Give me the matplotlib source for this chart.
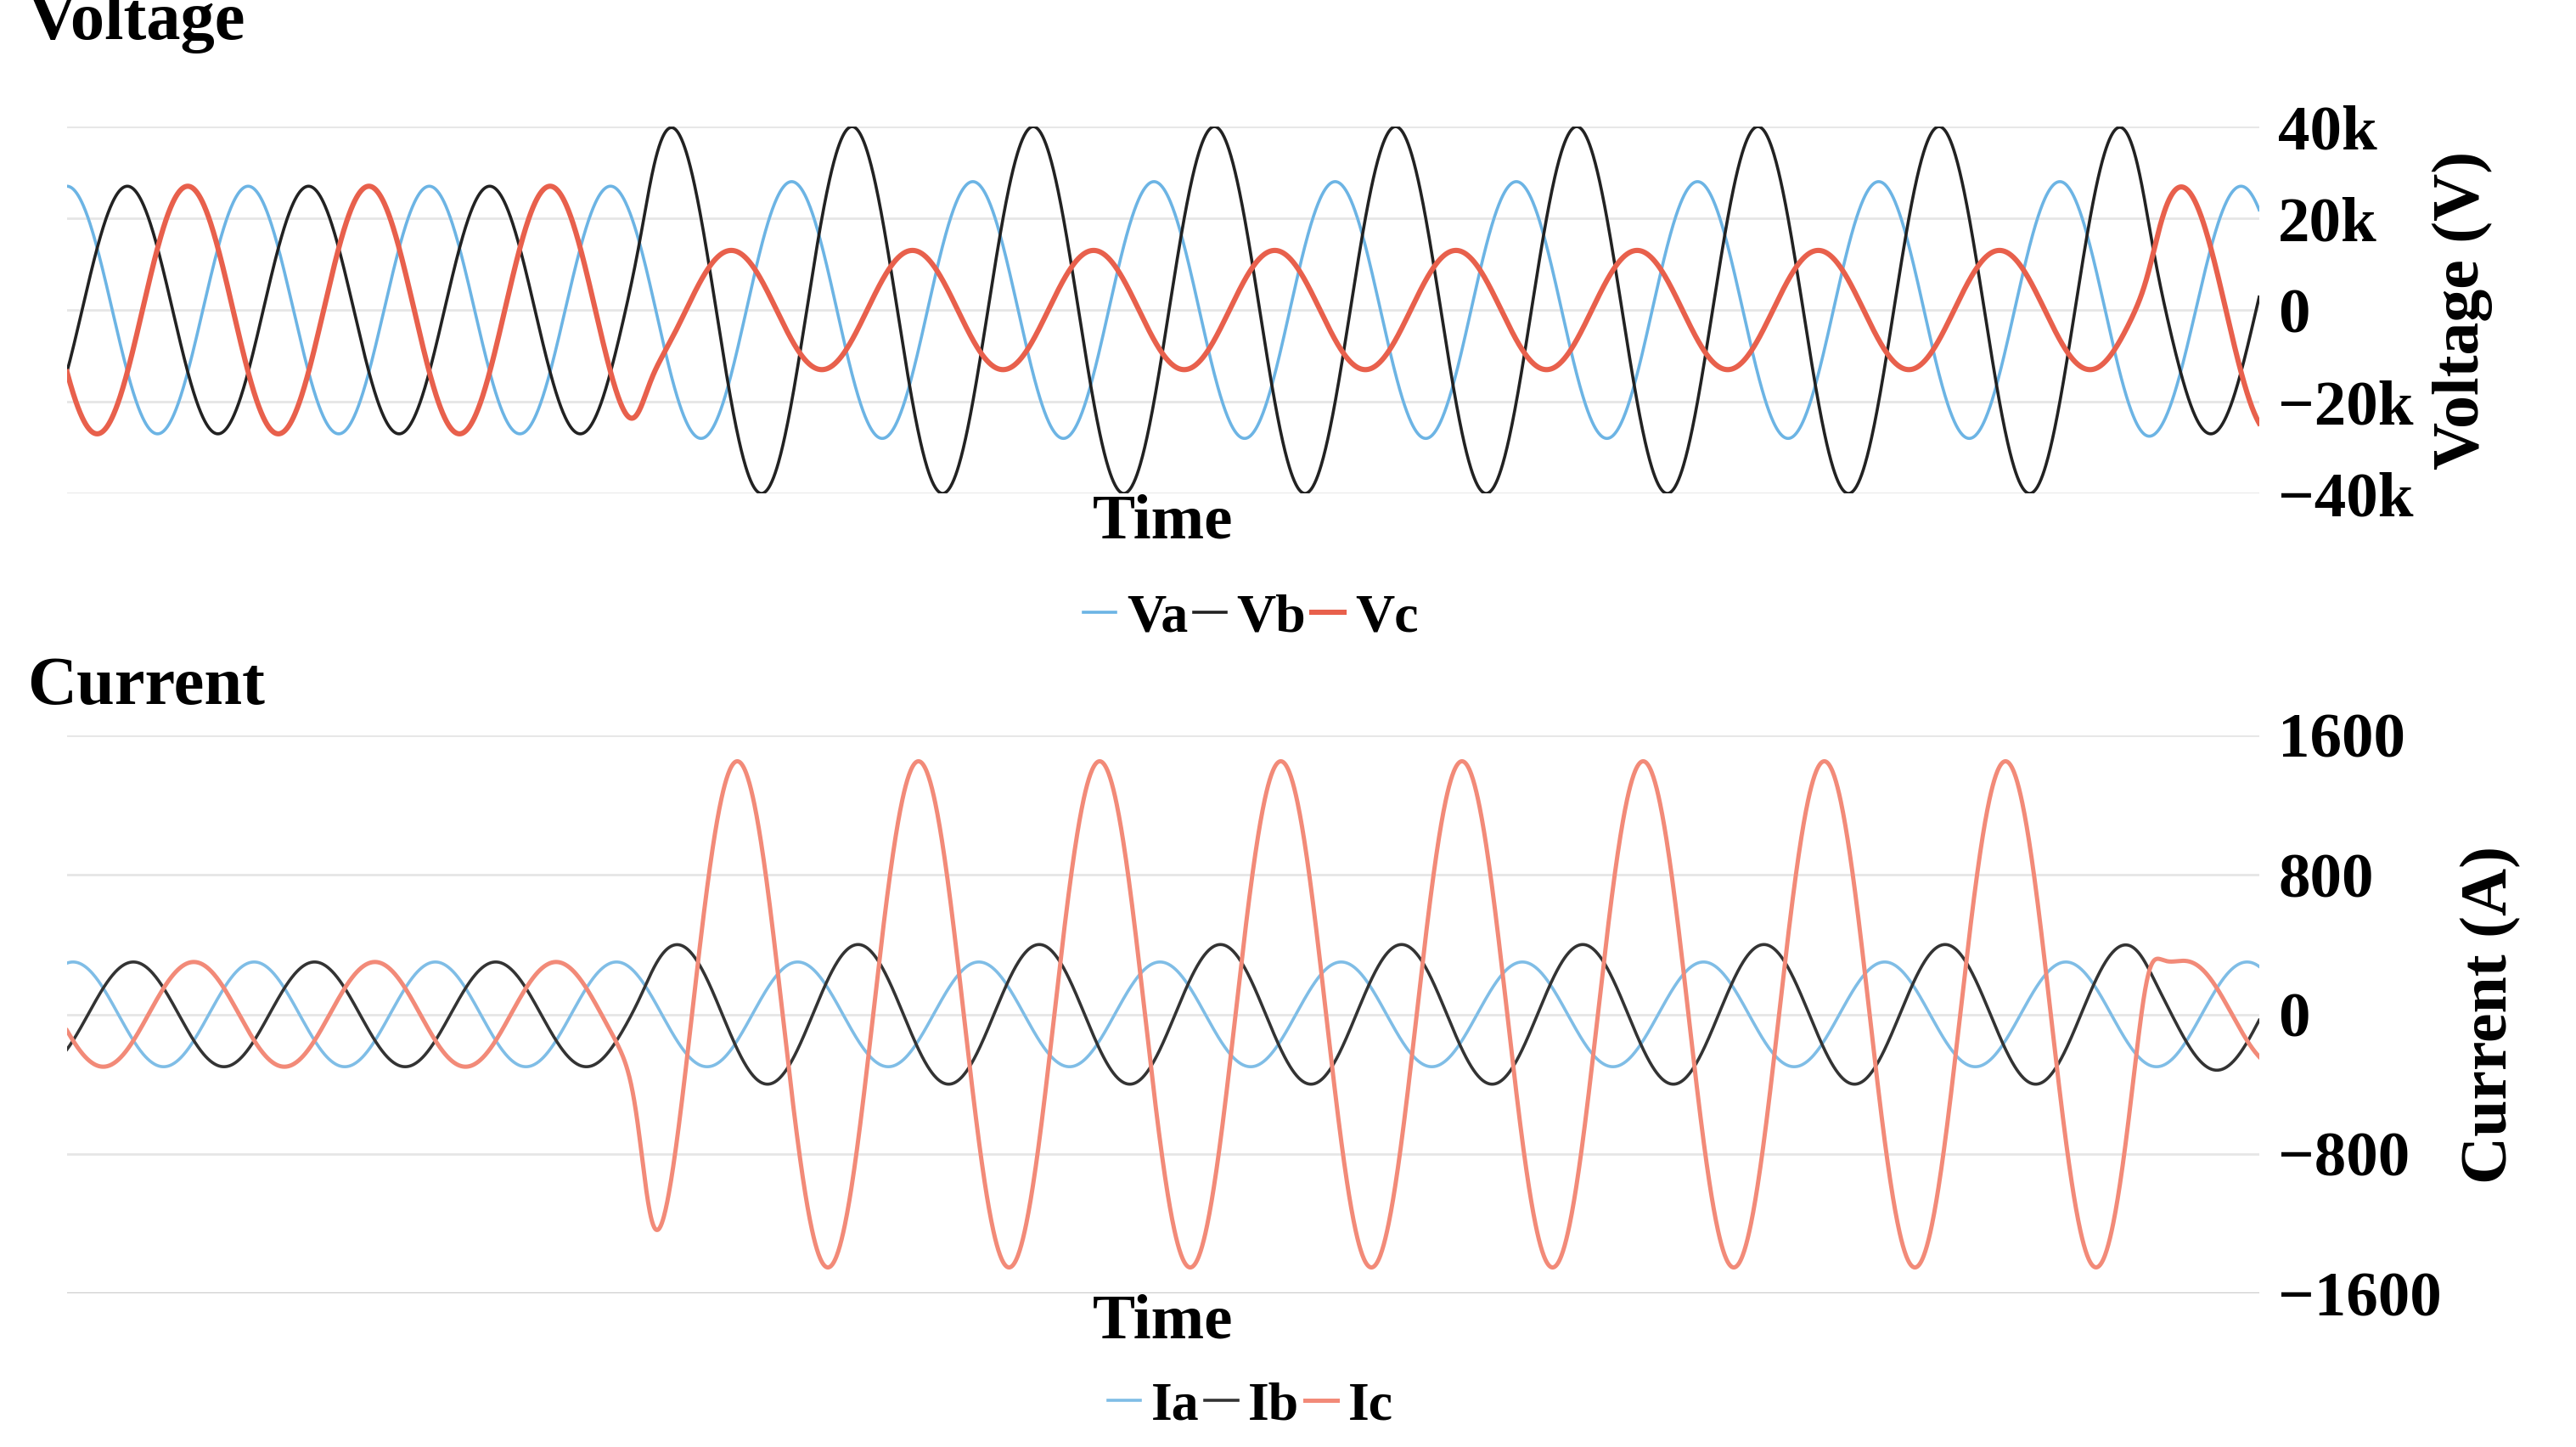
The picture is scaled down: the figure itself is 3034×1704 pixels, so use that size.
import numpy as np
import matplotlib.pyplot as plt

# time base in ms (50 Hz), fault window
t_end = 242.0
fault_on = 63.6
fault_off = 230.0
period = 20.0

# phase angles (deg) of each phase at t=0
phase_deg = {'a': 0.0, 'b': -120.0, 'c': 120.0}

# peak values: pre-fault, fault, post-fault
V_peak = {'a': [27000, 28000, 27000], 'b': [27000, 40000, 27000], 'c': [27000, 13000, 27000]}
I_peak = {'a': [300, 300, 300], 'b': [300, 400, 320], 'c': [300, 1450, 300]}

colors = {'a': '#6cb4e4', 'b': '#222222', 'c': '#e8604c'}
i_colors = {'a': '#7fbde6', 'b': '#333333', 'c': '#f28a78'}

t = np.linspace(0, t_end, 4000)


def wave(peaks, ph):
    s_on = 0.5 * (1 + np.tanh((t - fault_on) / 1.5))
    s_off = 0.5 * (1 + np.tanh((t - fault_off) / 1.5))
    amp = peaks[0] + (peaks[1] - peaks[0]) * s_on + (peaks[2] - peaks[1]) * s_off
    return amp * np.cos(2 * np.pi * t / period + np.radians(ph))


plt.rcParams['font.family'] = ['Liberation Serif', 'DejaVu Serif']
plt.rcParams['font.weight'] = 'bold'
fig = plt.figure(figsize=(15.17, 8.52), dpi=200)

ax1 = fig.add_axes([0.026, 0.659, 0.851, 0.2535])
ax2 = fig.add_axes([0.026, 0.106, 0.851, 0.386])

for ph in 'abc':
    ax1.plot(t, wave(V_peak[ph], phase_deg[ph]), color=colors[ph],
             lw=2.2 if ph == 'c' else 1.3, label='V' + ph)
    ax2.plot(t, wave(I_peak[ph], phase_deg[ph] - 12), color=i_colors[ph],
             lw=1.8 if ph == 'c' else 1.3, label='I' + ph)

ax1.set_ylim(-40000, 40000)
ax1.set_yticks([40000, 20000, 0, -20000, -40000])
ax1.set_yticklabels(['40k', '20k', '0', '\u221220k', '\u221240k'])
ax2.set_ylim(-1600, 1600)
ax2.set_yticks([1600, 800, 0, -800, -1600])
ax2.set_yticklabels(['1600', '800', '0', '\u2212800', '\u22121600'])

for ax, yl, title, ty, leg_y in [(ax1, 'Voltage (V)', 'Voltage', 1.2, -0.14),
                                 (ax2, 'Current (A)', 'Current', 1.03, -0.07)]:
    ax.set_xlim(0, t_end)
    ax.set_xticks([])
    ax.yaxis.tick_right()
    ax.yaxis.set_label_position('right')
    ax.tick_params(axis='y', length=0, labelsize=27, pad=8)
    ax.set_ylabel(yl, fontsize=28, fontweight='bold', labelpad=8)
    ax.grid(axis='y', color='#e6e6e6', lw=1)
    for s in ax.spines.values():
        s.set_visible(False)
    ax.set_xlabel('Time', fontsize=27, fontweight='bold', labelpad=0)
    ax.text(-0.018, ty, title, transform=ax.transAxes, fontsize=29, fontweight='bold',
            ha='left', va='bottom')
    ax.legend(loc='upper center', bbox_to_anchor=(0.54, leg_y), ncol=3, frameon=False,
              handlelength=0.6, handletextpad=0.2, columnspacing=0.1,
              prop={'size': 23, 'weight': 'bold'})

ax2.axhline(-1600, color='#cccccc', lw=1.2)

fig.savefig('out.png', dpi=200)
